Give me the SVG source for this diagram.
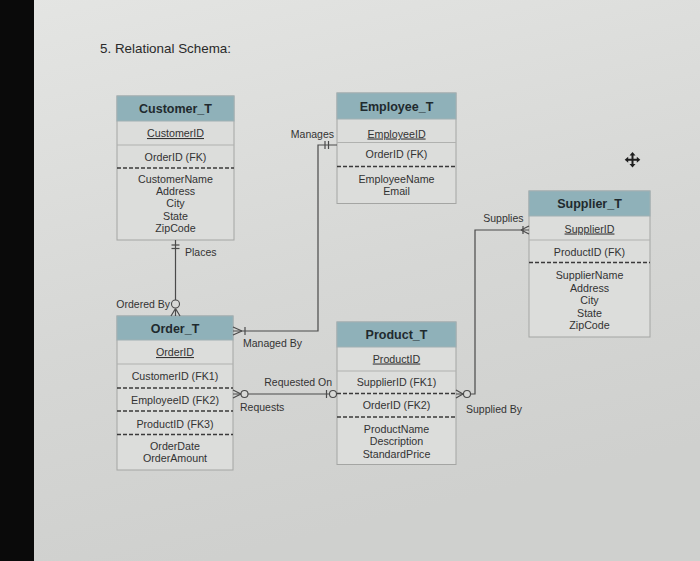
<svg xmlns="http://www.w3.org/2000/svg" width="700" height="561" viewBox="0 0 700 561">
<defs>
<linearGradient id="bg" x1="0" y1="0" x2="0.3" y2="1">
<stop offset="0" stop-color="#e4e5e3"/>
<stop offset="0.6" stop-color="#d6d7d5"/>
<stop offset="1" stop-color="#cfd0ce"/>
</linearGradient>
<style>
.body{fill:#dcdddb;stroke:#a4a5a3;stroke-width:1}
.hdr{fill:#8fb1b9;stroke:#9fb0b3;stroke-width:1}
.sep{stroke:#b0b1af;stroke-width:1}
.dash{stroke:#3a3a3a;stroke-width:1.4;stroke-dasharray:4 2}
.tt{font-family:"Liberation Sans",Arial,sans-serif;font-weight:bold;font-size:12.5px;fill:#1f2a2e;text-anchor:middle}
.a{font-family:"Liberation Sans",Arial,sans-serif;font-size:10.7px;fill:#333333;text-anchor:middle}
.u{text-decoration:underline}
.lbl{font-family:"Liberation Sans",Arial,sans-serif;font-size:10.5px;fill:#333333}
.c{stroke:#4a4a4a;stroke-width:1.2;fill:none}
.o{stroke:#4a4a4a;stroke-width:1.1;fill:#d8d9d7}
</style>
</defs>
<rect x="0" y="0" width="700" height="561" fill="url(#bg)"/>
<rect x="0" y="0" width="34" height="561" fill="#0a0a0a"/>
<text x="100" y="53" font-family="Liberation Sans, Arial, sans-serif" font-size="13.4" fill="#2a2a2a">5. Relational Schema:</text>

<g id="Customer_T">
<rect class="body" x="117" y="96" width="117" height="144"/>
<rect class="hdr" x="117" y="96" width="117" height="25"/>
<line class="sep" x1="117" y1="145" x2="234" y2="145"/>
<line class="dash" x1="117" y1="168" x2="234" y2="168"/>
<text class="tt" x="175.5" y="113">Customer_T</text>
<text class="a u" x="175.5" y="137">CustomerID</text>
<text class="a" x="175.5" y="161">OrderID (FK)</text>
<text class="a" x="175.5" y="183">CustomerName</text>
<text class="a" x="175.5" y="195">Address</text>
<text class="a" x="175.5" y="207">City</text>
<text class="a" x="175.5" y="219.5">State</text>
<text class="a" x="175.5" y="231.5">ZipCode</text>
</g>

<g id="Employee_T">
<rect class="body" x="337" y="93" width="119" height="110.5"/>
<rect class="hdr" x="337" y="93" width="119" height="26"/>
<line class="sep" x1="337" y1="142.5" x2="456" y2="142.5"/>
<line class="dash" x1="337" y1="166.5" x2="456" y2="166.5"/>
<text class="tt" x="396.5" y="111">Employee_T</text>
<text class="a u" x="396.5" y="137.5">EmployeeID</text>
<text class="a" x="396.5" y="158">OrderID (FK)</text>
<text class="a" x="396.5" y="183">EmployeeName</text>
<text class="a" x="396.5" y="195">Email</text>
</g>

<g id="Supplier_T">
<rect class="body" x="529" y="191" width="121" height="146"/>
<rect class="hdr" x="529" y="191" width="121" height="25"/>
<line class="sep" x1="529" y1="240" x2="650" y2="240"/>
<line class="dash" x1="529" y1="262.5" x2="650" y2="262.5"/>
<text class="tt" x="589.5" y="208">Supplier_T</text>
<text class="a u" x="589.5" y="232.5">SupplierID</text>
<text class="a" x="589.5" y="256">ProductID (FK)</text>
<text class="a" x="589.5" y="279">SupplierName</text>
<text class="a" x="589.5" y="291.5">Address</text>
<text class="a" x="589.5" y="303.5">City</text>
<text class="a" x="589.5" y="316.5">State</text>
<text class="a" x="589.5" y="329">ZipCode</text>
</g>

<g id="Order_T">
<rect class="body" x="117" y="316" width="116" height="154"/>
<rect class="hdr" x="117" y="316" width="116" height="24"/>
<line class="sep" x1="117" y1="364" x2="233" y2="364"/>
<line class="dash" x1="117" y1="388" x2="233" y2="388"/>
<line class="dash" x1="117" y1="411" x2="233" y2="411"/>
<line class="dash" x1="117" y1="434.5" x2="233" y2="434.5"/>
<text class="tt" x="175" y="332.5">Order_T</text>
<text class="a u" x="175" y="356">OrderID</text>
<text class="a" x="175" y="380">CustomerID (FK1)</text>
<text class="a" x="175" y="403.5">EmployeeID (FK2)</text>
<text class="a" x="175" y="427.5">ProductID (FK3)</text>
<text class="a" x="175" y="450">OrderDate</text>
<text class="a" x="175" y="462">OrderAmount</text>
</g>

<g id="Product_T">
<rect class="body" x="337" y="322" width="119" height="142.5"/>
<rect class="hdr" x="337" y="322" width="119" height="25"/>
<line class="sep" x1="337" y1="371" x2="456" y2="371"/>
<line class="dash" x1="337" y1="393.5" x2="456" y2="393.5"/>
<line class="dash" x1="337" y1="417" x2="456" y2="417"/>
<text class="tt" x="396.5" y="338.5">Product_T</text>
<text class="a u" x="396.5" y="362.5">ProductID</text>
<text class="a" x="396.5" y="386">SupplierID (FK1)</text>
<text class="a" x="396.5" y="409">OrderID (FK2)</text>
<text class="a" x="396.5" y="432.5">ProductName</text>
<text class="a" x="396.5" y="445">Description</text>
<text class="a" x="396.5" y="457.5">StandardPrice</text>
</g>

<g id="connectors">
<line class="c" x1="175.5" y1="240" x2="175.5" y2="300"/>
<line class="c" x1="171.5" y1="245" x2="179.5" y2="245"/>
<line class="c" x1="171.5" y1="248.5" x2="179.5" y2="248.5"/>
<path class="c" d="M175.5,308.5 L171,316 M175.5,308.5 L175.5,316 M175.5,308.5 L180,316"/>
<circle class="o" cx="175.5" cy="304" r="4"/>
<path class="c" d="M337,145 H318 V331 H233"/>
<line class="c" x1="325" y1="141" x2="325" y2="149"/>
<line class="c" x1="328.5" y1="141" x2="328.5" y2="149"/>
<path class="c" d="M242,331 L233,327 M242,331 L233,335"/>
<line class="c" x1="245" y1="327" x2="245" y2="335"/>
<line class="c" x1="233" y1="394" x2="337" y2="394"/>
<path class="c" d="M241,394 L233,390 M241,394 L233,398"/>
<circle class="o" cx="244.5" cy="394" r="3.5"/>
<line class="c" x1="326.5" y1="390" x2="326.5" y2="398"/>
<circle class="o" cx="333" cy="394" r="3.5"/>
<path class="c" d="M456,394 H475 V230 H529"/>
<path class="c" d="M463,394 L456,390 M463,394 L456,398"/>
<circle class="o" cx="467" cy="394" r="3.5"/>
<line class="c" x1="523" y1="226" x2="523" y2="234"/>
<path class="c" d="M521,230 L529,226 M521,230 L529,234"/>
</g>

<g id="labels">
<text class="lbl" x="185" y="256">Places</text>
<text class="lbl" x="334" y="138" text-anchor="end">Manages</text>
<text class="lbl" x="170" y="308" text-anchor="end">Ordered By</text>
<text class="lbl" x="243" y="347">Managed By</text>
<text class="lbl" x="332" y="386" text-anchor="end">Requested On</text>
<text class="lbl" x="240" y="411">Requests</text>
<text class="lbl" x="466" y="413">Supplied By</text>
<text class="lbl" x="523.5" y="222" text-anchor="end">Supplies</text>
</g>

<g id="cursor" fill="#1e1e1e">
<path d="M632.5,152 L629.5,155.5 H631.5 V158.8 H628.2 V156.8 L624.7,159.8 L628.2,162.8 V160.8 H631.5 V164 H629.5 L632.5,167.5 L635.5,164 H633.5 V160.8 H636.8 V162.8 L640.3,159.8 L636.8,156.8 V158.8 H633.5 V155.5 H635.5 Z"/>
</g>
</svg>
